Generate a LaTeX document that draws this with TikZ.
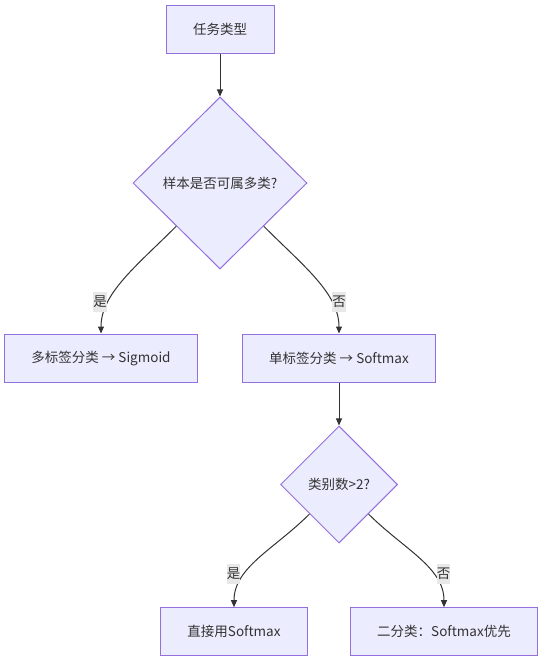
\documentclass[tikz,border=0pt]{standalone}
\usepackage{fontspec}
\setmainfont{Noto Sans CJK SC}
\usetikzlibrary{shapes.geometric,arrows.meta}
\definecolor{boxfill}{HTML}{ECECFF}
\definecolor{boxline}{HTML}{9370DB}
\definecolor{edgeline}{HTML}{333333}
\definecolor{labelbg}{HTML}{E8E8E8}

\begin{document}
\begin{tikzpicture}[x=1pt, y=-1pt,
  font=\fontsize{13.5pt}{16pt}\selectfont,
  stepbox/.style={draw=boxline, fill=boxfill, text=edgeline, line width=1pt,
    minimum height=48pt, inner xsep=27pt, inner ysep=0pt},
  choice/.style={diamond, draw=boxline, fill=boxfill, text=edgeline, line width=1pt, inner sep=0pt},
  flow/.style={draw=edgeline, line width=1pt, -{Triangle[length=7pt,width=6pt]}},
  answer/.style={fill=labelbg, text=edgeline, inner sep=0pt, minimum width=13pt, minimum height=20pt}]
\useasboundingbox (0,0) rectangle (541,660);
% nodes
\node[stepbox] (task) at (220,29.5) {任务类型};
\node[choice, minimum width=174pt, minimum height=172pt] (multi) at (220,183) {样本是否可属多类?};
\node[stepbox] (sigmoid) at (101,358) {多标签分类 → Sigmoid};
\node[stepbox] (softmax) at (339,358) {单标签分类 → Softmax};
\node[choice, minimum width=117pt, minimum height=117pt] (classes) at (339,484.5) {类别数>2?};
\node[stepbox] (direct) at (234,631.7) {直接用Softmax};
\node[stepbox] (binary) at (444,631.7) {二分类：Softmax优先};
% edges
\draw[flow] (task) -- (multi);
\draw[flow] (multi.south west) .. controls +(-40,40) and +(0,-40) .. (sigmoid.north);
\draw[flow] (multi.south east) .. controls +(40,40) and +(0,-40) .. (softmax.north);
\draw[flow] (softmax) -- (classes);
\draw[flow] (classes.south west) .. controls +(-35,35) and +(0,-40) .. (direct.north);
\draw[flow] (classes.south east) .. controls +(35,35) and +(0,-40) .. (binary.north);
% labels
\node[answer] (yes1) at (100,302) {是};
\node[answer] (no1) at (339,302) {否};
\node[answer] (yes2) at (233.5,574) {是};
\node[answer] (no2) at (443.5,574) {否};
\end{tikzpicture}
\end{document}
